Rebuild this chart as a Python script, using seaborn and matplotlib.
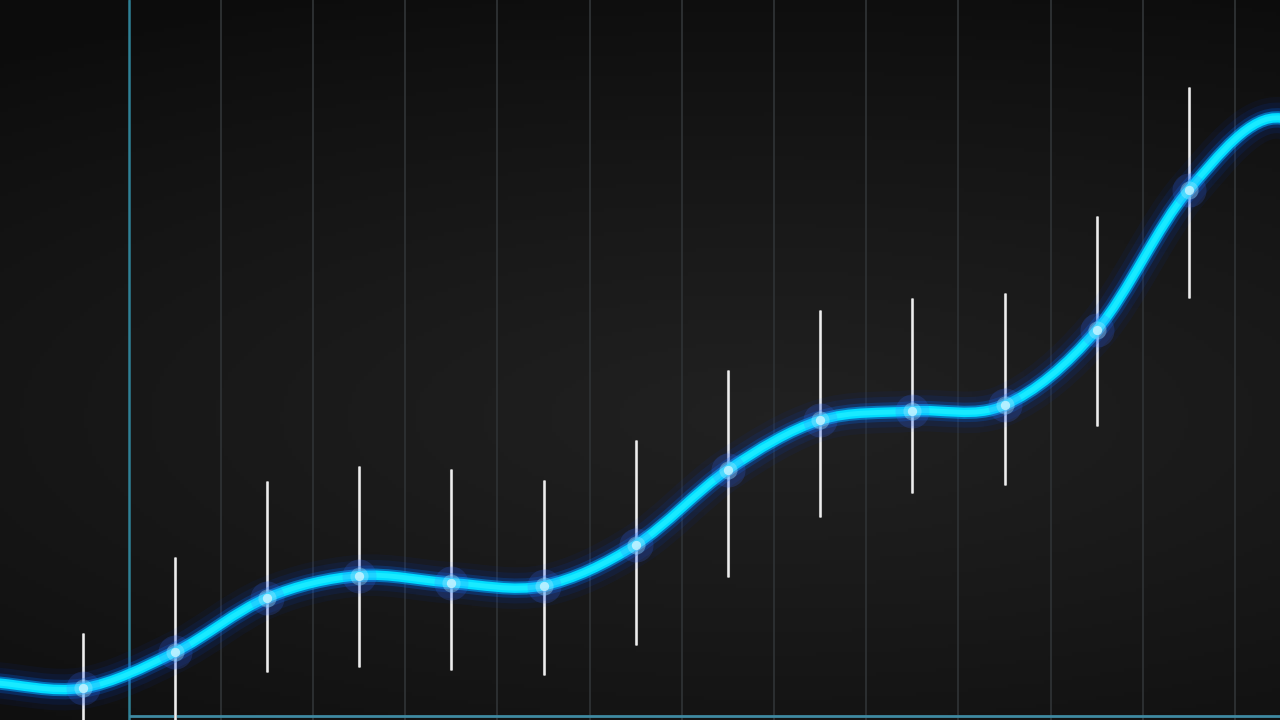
import numpy as np
import pandas as pd
import matplotlib
matplotlib.use("Agg")
import matplotlib.pyplot as plt
from matplotlib.path import Path
from matplotlib.patches import PathPatch
import seaborn as sns

# =============================================================================
# DATA
# =============================================================================
# curve knots: step index -> level (off-screen knots steer the ends)
step = [-2, -1, 0, 1, 2, 3, 4, 5, 6, 7, 8, 9, 10, 11, 12, 13, 14, 15]
level = [5.5, 4.7, 3.9, 8.9, 16.5, 19.6, 18.6, 18.2, 23.9, 34.4,
         41.3, 42.6, 43.4, 53.9, 73.5, 83.5, 70.0, 60.0]

# range bars at each visible step
bar_step = [0, 1, 2, 3, 4, 5, 6, 7, 8, 9, 10, 11, 12]
bar_low = [-2.0, -2.0, 6.1, 6.8, 6.4, 5.7, 9.9, 19.4, 27.8, 31.1, 32.3, 40.5, 58.4]
bar_high = [11.6, 22.2, 32.8, 34.9, 34.5, 33.0, 38.5, 48.3, 56.7, 58.4, 59.1, 69.8, 87.8]

# vertical guides between steps
guide_x = [0.5, 1.5, 2.5, 3.5, 4.5, 5.5, 6.5, 7.5, 8.5, 9.5, 10.5, 11.5, 12.5]

# =============================================================================
# HELPERS
# =============================================================================
def smooth_path(xs, ys):
    """Catmull-Rom through the knots, as cubic Bezier segments."""
    p = np.column_stack([xs, ys]).astype(float)
    verts = [tuple(p[1])]
    codes = [Path.MOVETO]
    for k in range(1, len(p) - 2):
        t1 = (p[k + 1] - p[k - 1]) / 2
        t2 = (p[k + 2] - p[k]) / 2
        verts += [tuple(p[k] + t1 / 3), tuple(p[k + 1] - t2 / 3), tuple(p[k + 1])]
        codes += [Path.CURVE4] * 3
    return Path(verts, codes)


# =============================================================================
# PLOTTING
# =============================================================================
sns.set_theme(style="dark")

fig = plt.figure(figsize=(12.8, 7.2), dpi=100)
ax = fig.add_axes([0, 0, 1, 1])
ax.set_xlim(-0.895, 12.988)
ax.set_ylim(-0.56, 100)
ax.axis("off")

# background: soft vignette, lighter in the middle band
gx, gy = np.meshgrid(np.linspace(0, 1, 320), np.linspace(0, 1, 180))
r = np.sqrt(((gx - 0.6) / 1.0) ** 2 + ((gy - 0.42) / 0.62) ** 2)
shade = np.clip(1 - r, 0, 1) ** 0.9
dark = np.array([0.05, 0.05, 0.05])
light = np.array([0.13, 0.13, 0.13])
bg = dark + (light - dark) * shade[..., None]
ax.imshow(bg, extent=[0, 1, 0, 1], transform=ax.transAxes, aspect="auto",
          origin="lower", zorder=0)

# guides
for i, gxv in enumerate(guide_x):
    if i == 0:
        ax.axvline(gxv, color="#2f8196", lw=1.8, zorder=1)
    else:
        ax.axvline(gxv, color="#2c2f31", lw=1.4, zorder=1)
ax.hlines(0, guide_x[0], 13.2, color="#3f8aa2", lw=2.0, zorder=1)

# range bars
bars = pd.DataFrame({"step": bar_step, "low": bar_low, "high": bar_high})
ax.vlines(bars["step"], bars["low"], bars["high"], color="#bdbdbd", lw=2.2, zorder=2)
ax.vlines(bars["step"], bars["low"], bars["high"], color="#eeeeee", lw=0.9, zorder=2)

# glowing curve
curve = smooth_path(step, level)
for lw, alpha, col in [(30, 0.05, "#0040ff"), (22, 0.09, "#0050ff"),
                       (14, 0.22, "#0070ff"), (9.5, 0.55, "#00a8ff"),
                       (6.8, 1.0, "#00dcff"), (3.5, 0.8, "#20eeff")]:
    ax.add_patch(PathPatch(curve, fill=False, lw=lw, edgecolor=col, alpha=alpha,
                           capstyle="round", joinstyle="round", zorder=3))

# glowing knots
knots = pd.DataFrame({"step": bar_step, "level": level[2:15]})
sns.scatterplot(data=knots, x="step", y="level", ax=ax, s=600, color="#3d6dff",
                alpha=0.18, linewidth=0, zorder=4, legend=False)
sns.scatterplot(data=knots, x="step", y="level", ax=ax, s=170, color="#a8ecff",
                alpha=0.35, linewidth=0, zorder=5, legend=False)
sns.scatterplot(data=knots, x="step", y="level", ax=ax, s=45, color="#eafbff",
                alpha=0.65, linewidth=0, zorder=6, legend=False)

fig.savefig("out.png", dpi=100, facecolor="#111111")
plt.close(fig)
